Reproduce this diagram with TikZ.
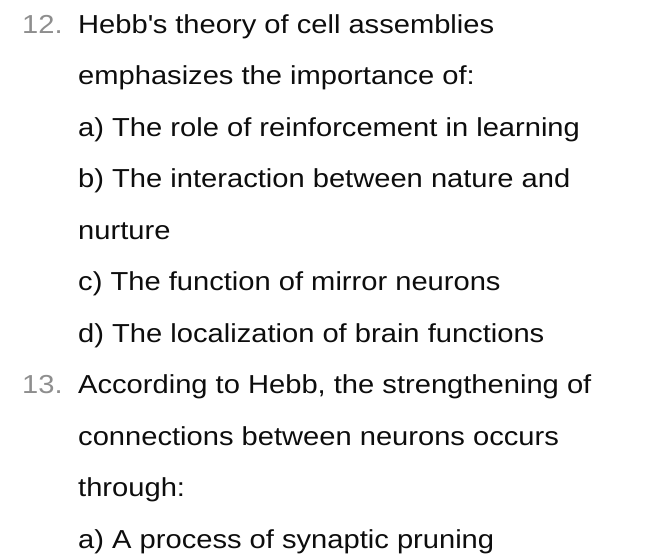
\documentclass[tikz,border=0pt]{standalone}
\usepackage{fontspec}
\setmainfont[FakeStretch=1.12]{Liberation Sans}
\definecolor{txt}{HTML}{0D0D0D}
\definecolor{num}{HTML}{8E8E8E}
\begin{document}
\begin{tikzpicture}[x=1pt,y=1pt,
  t/.style={anchor=base west,inner sep=0,font=\fontsize{26}{30}\selectfont,text=txt},
  n/.style={anchor=base west,inner sep=0,font=\fontsize{26}{30}\selectfont,text=num}]
\useasboundingbox[fill=white] (0,0) rectangle (659,-554);
\node[n] (n12) at (22,-33) {12.};
\node[t] (l1) at (78,-33) {Hebb\textquotesingle s theory of cell assemblies};
\node[t] (l2) at (78,-84.5) {emphasizes the importance of:};
\node[t] (l3) at (78,-136) {a) The role of reinforcement in learning};
\node[t] (l4) at (78,-187.5) {b) The interaction between nature and};
\node[t] (l5) at (78,-239) {nurture};
\node[t] (l6) at (78,-290.5) {c) The function of mirror neurons};
\node[t] (l7) at (78,-342) {d) The localization of brain functions};
\node[n] (n13) at (22,-393.5) {13.};
\node[t] (l8) at (78,-393.5) {According to Hebb, the strengthening of};
\node[t] (l9) at (78,-445) {connections between neurons occurs};
\node[t] (l10) at (78,-496.5) {through:};
\node[t] (l11) at (78,-548) {a) A process of synaptic pruning};
\end{tikzpicture}
\end{document}
